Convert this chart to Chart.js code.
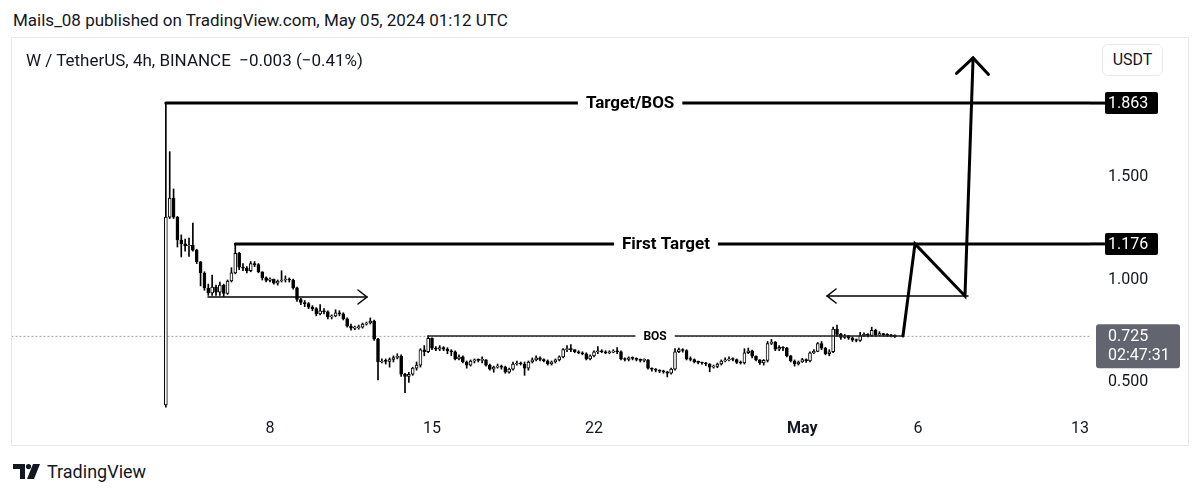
<!DOCTYPE html>
<html>
<head>
<meta charset="utf-8">
<title>W / TetherUS 4h</title>
<script src="https://cdn.jsdelivr.net/npm/chart.js@4.4.1/dist/chart.umd.min.js"></script>
<style>
  html, body { margin: 0; padding: 0; background: #fff; }
  body { width: 1200px; height: 495px; position: relative; overflow: hidden;
         font-family: Roboto, "Noto Sans", sans-serif; color: #131722; }
  #header { position: absolute; left: 13px; top: 10px; font-size: 17px; line-height: 20px; white-space: nowrap; }
  #frame { position: absolute; left: 11px; top: 37px; width: 1176px; height: 407px; border: 1px solid #e6e8ee; }
  #chart { position: absolute; left: 0; top: 0; }
  #title { position: absolute; left: 14px; top: 13px; font-size: 17px; line-height: 18px; white-space: nowrap; }
  #unit { position: absolute; left: 1090px; top: 6px; width: 61px; height: 32px; box-sizing: border-box;
          border: 1px solid #e6e8ee; border-radius: 6px; font-size: 16px; line-height: 30px; text-align: center; background: #fff; }
  #footer { position: absolute; left: 13px; top: 461px; height: 20px; display: flex; align-items: center; }
  #footer span { font-size: 18px; margin-left: 6px; }
</style>
</head>
<body>
<div id="header">Mails_08 published on TradingView.com, May 05, 2024 01:12 UTC</div>
<div id="frame">
  <canvas id="chart" width="1176" height="407"></canvas>
  <div id="title">W / TetherUS, 4h, BINANCE&nbsp;&nbsp;−0.003 (−0.41%)</div>
  <div id="unit">USDT</div>
</div>
<div id="footer">
  <svg width="28" height="15" viewBox="0 0 28 15">
    <path d="M0 0h12v15h-5v-10h-7z" fill="#131722"/>
    <circle cx="15.5" cy="2.6" r="2.6" fill="#131722"/>
    <path d="M20 0h7l-6 15h-7z" fill="#131722"/>
  </svg>
  <span>TradingView</span>
</div>

<script>
// 4h candles of W/USDT, first one Apr 3 12:00 UTC; x axis is the day number (Apr 8 = 8, May 1 = 31)
var firstBarDay = 3.5;
var barsPerDay = 6;

var opens = [
  0.390,1.307,1.400,1.307,1.195,1.176,1.166,1.170,1.146,1.088,
  1.034,0.961,0.937,0.966,0.940,0.975,0.935,0.995,1.035,1.130,
  1.063,1.058,1.045,1.080,1.075,1.040,1.010,0.998,1.005,0.985,
  0.995,1.000,1.005,1.000,0.962,0.905,0.890,0.885,0.868,0.860,
  0.835,0.850,0.845,0.820,0.825,0.840,0.835,0.810,0.775,0.765,
  0.768,0.770,0.785,0.790,0.800,0.712,0.600,0.605,0.603,0.612,
  0.622,0.628,0.540,0.530,0.540,0.570,0.585,0.659,0.650,0.715,
  0.668,0.662,0.670,0.662,0.655,0.650,0.615,0.625,0.600,0.585,
  0.605,0.610,0.608,0.610,0.585,0.565,0.575,0.580,0.575,0.550,
  0.565,0.590,0.595,0.590,0.570,0.600,0.610,0.620,0.612,0.605,
  0.592,0.600,0.610,0.625,0.660,0.665,0.660,0.650,0.645,0.640,
  0.615,0.630,0.650,0.655,0.650,0.645,0.648,0.652,0.650,0.615,
  0.612,0.620,0.618,0.612,0.608,0.610,0.570,0.565,0.560,0.555,
  0.552,0.545,0.565,0.650,0.660,0.656,0.615,0.612,0.600,0.598,
  0.595,0.590,0.575,0.578,0.590,0.605,0.610,0.615,0.612,0.598,
  0.595,0.645,0.655,0.628,0.610,0.595,0.608,0.690,0.697,0.662,
  0.672,0.668,0.630,0.605,0.590,0.600,0.612,0.605,0.645,0.652,
  0.690,0.668,0.640,0.650,0.760,0.735,0.720,0.728,0.718,0.708,
  0.705,0.728,0.735,0.730,0.755,0.732,0.738,0.732,0.730,0.728
];
var highs = [
  1.863,1.626,1.444,1.310,1.220,1.200,1.205,1.278,1.150,1.090,
  1.040,0.980,1.024,0.975,0.990,0.980,1.000,1.060,1.176,1.135,
  1.080,1.065,1.090,1.090,1.080,1.040,1.015,1.010,1.005,1.000,
  1.045,1.020,1.010,1.005,0.965,0.910,0.900,0.890,0.875,0.865,
  0.880,0.860,0.850,0.830,0.855,0.850,0.840,0.815,0.785,0.775,
  0.780,0.790,0.795,0.815,0.805,0.715,0.615,0.615,0.620,0.630,
  0.640,0.635,0.545,0.550,0.575,0.600,0.665,0.680,0.727,0.718,
  0.675,0.680,0.675,0.670,0.660,0.655,0.635,0.630,0.605,0.610,
  0.615,0.615,0.625,0.612,0.590,0.580,0.590,0.585,0.580,0.570,
  0.600,0.605,0.600,0.600,0.605,0.620,0.630,0.625,0.615,0.610,
  0.605,0.615,0.630,0.665,0.680,0.685,0.660,0.655,0.650,0.645,
  0.635,0.655,0.675,0.660,0.655,0.655,0.660,0.670,0.655,0.620,
  0.625,0.625,0.620,0.615,0.615,0.612,0.572,0.568,0.562,0.560,
  0.555,0.570,0.665,0.668,0.665,0.660,0.625,0.615,0.605,0.600,
  0.598,0.592,0.585,0.595,0.610,0.620,0.625,0.620,0.615,0.605,
  0.665,0.668,0.658,0.630,0.612,0.612,0.700,0.710,0.700,0.680,
  0.675,0.672,0.632,0.610,0.605,0.618,0.615,0.650,0.660,0.695,
  0.700,0.672,0.660,0.770,0.780,0.740,0.735,0.730,0.722,0.712,
  0.745,0.742,0.738,0.770,0.760,0.748,0.740,0.738,0.735,0.732
];
var lows = [
  0.380,1.300,1.300,1.161,1.112,1.140,1.115,1.140,1.080,0.971,
  0.950,0.925,0.925,0.925,0.925,0.920,0.930,0.990,1.030,1.050,
  1.045,1.035,1.040,1.065,1.035,1.000,0.990,0.990,0.980,0.975,
  0.990,0.990,0.990,0.955,0.895,0.880,0.870,0.860,0.850,0.825,
  0.830,0.835,0.810,0.810,0.820,0.825,0.805,0.770,0.755,0.758,
  0.760,0.765,0.780,0.785,0.705,0.512,0.595,0.590,0.575,0.600,
  0.615,0.530,0.450,0.500,0.535,0.560,0.575,0.630,0.645,0.660,
  0.655,0.655,0.655,0.640,0.630,0.610,0.610,0.595,0.570,0.580,
  0.595,0.600,0.595,0.580,0.560,0.550,0.570,0.565,0.545,0.545,
  0.560,0.585,0.585,0.535,0.560,0.595,0.605,0.605,0.600,0.585,
  0.585,0.595,0.605,0.620,0.650,0.650,0.645,0.640,0.635,0.610,
  0.610,0.625,0.640,0.645,0.640,0.640,0.645,0.640,0.610,0.605,
  0.605,0.610,0.605,0.600,0.600,0.565,0.555,0.552,0.548,0.545,
  0.527,0.540,0.560,0.645,0.648,0.610,0.605,0.595,0.590,0.588,
  0.582,0.552,0.570,0.572,0.585,0.600,0.605,0.605,0.592,0.590,
  0.590,0.640,0.620,0.605,0.588,0.585,0.600,0.685,0.655,0.655,
  0.655,0.625,0.600,0.580,0.585,0.598,0.598,0.600,0.640,0.650,
  0.660,0.635,0.630,0.645,0.725,0.710,0.715,0.710,0.700,0.698,
  0.700,0.725,0.722,0.725,0.725,0.728,0.726,0.725,0.722,0.720
];
var closes = [
  1.307,1.400,1.307,1.195,1.176,1.166,1.170,1.146,1.088,1.034,
  0.961,0.937,0.966,0.940,0.975,0.935,0.995,1.035,1.130,1.063,
  1.058,1.045,1.080,1.075,1.040,1.010,0.998,1.005,0.985,0.995,
  1.000,1.005,1.000,0.962,0.905,0.890,0.885,0.868,0.860,0.835,
  0.850,0.845,0.820,0.825,0.840,0.835,0.810,0.775,0.765,0.768,
  0.770,0.785,0.790,0.800,0.712,0.600,0.605,0.603,0.612,0.622,
  0.628,0.540,0.530,0.540,0.570,0.585,0.659,0.650,0.715,0.668,
  0.662,0.670,0.662,0.655,0.650,0.615,0.625,0.600,0.585,0.605,
  0.610,0.608,0.610,0.585,0.565,0.575,0.580,0.575,0.550,0.565,
  0.590,0.595,0.590,0.570,0.600,0.610,0.620,0.612,0.605,0.592,
  0.600,0.610,0.625,0.660,0.665,0.660,0.650,0.645,0.640,0.615,
  0.630,0.650,0.655,0.650,0.645,0.648,0.652,0.650,0.615,0.612,
  0.620,0.618,0.612,0.608,0.610,0.570,0.565,0.560,0.555,0.552,
  0.545,0.565,0.650,0.660,0.656,0.615,0.612,0.600,0.598,0.595,
  0.590,0.575,0.578,0.590,0.605,0.610,0.615,0.612,0.598,0.595,
  0.645,0.655,0.628,0.610,0.595,0.608,0.690,0.697,0.662,0.672,
  0.668,0.630,0.605,0.590,0.600,0.612,0.605,0.645,0.652,0.690,
  0.668,0.640,0.650,0.760,0.735,0.720,0.728,0.718,0.708,0.705,
  0.728,0.735,0.730,0.755,0.732,0.738,0.732,0.730,0.728,0.725
];

// axes
var dayTicks = [8, 15, 22, 31, 36, 43];
var dayTickLabels = ['8', '15', '22', 'May', '6', '13'];
var priceTicks = [0.5, 1.0, 1.5];
var xMin = -3.148, xMax = 43.432;
var yMin = 0.3658, yMax = 2.1707;

var lastPrice = 0.725;
var countdown = '02:47:31';

// drawn lines, as [day, price]
var targetBosLine = [[3.5, 1.863], [xMax, 1.863]];
var firstTargetLine = [[6.5, 1.176], [xMax, 1.176]];
var bosLine = [[14.83, 0.727], [35.35, 0.727]];
var arrowRightLine = [[5.32, 0.917], [12.19, 0.917]];
var arrowLeftLine = [[38.16, 0.922], [32.07, 0.922]];
var projectionPath = [[35.35, 0.727], [35.87, 1.176], [38.03, 0.922], [38.38, 2.083]];
var lastPriceLine = [[xMin, lastPrice], [xMax, lastPrice]];

var lineLabels = [
    { text: 'Target/BOS', day: 23.56, price: 1.863, size: 17 },
    { text: 'First Target', day: 25.11, price: 1.176, size: 17 },
    { text: 'BOS', day: 24.64, price: 0.727, size: 12 }
];
var priceTags = [1.863, 1.176];

function toPoints(list) {
    return list.map(function (p) { return { x: p[0], y: p[1] }; });
}

function barDay(i) {
    return firstBarDay + i / barsPerDay;
}

function lineSet(list, width, color, dash, order) {
    return {
        type: 'line',
        data: toPoints(list),
        borderColor: color,
        borderWidth: width,
        borderDash: dash || [],
        pointRadius: 0,
        tension: 0,
        borderCapStyle: 'round',
        fill: false,
        order: order
    };
}

function arrowHead(ctx, from, to, len, half, width) {
    var dx = to.x - from.x, dy = to.y - from.y;
    var d = Math.sqrt(dx * dx + dy * dy);
    var ux = dx / d, uy = dy / d;
    ctx.beginPath();
    ctx.moveTo(to.x - ux * len - uy * half, to.y - uy * len + ux * half);
    ctx.lineTo(to.x, to.y);
    ctx.lineTo(to.x - ux * len + uy * half, to.y - uy * len - ux * half);
    ctx.lineWidth = width;
    ctx.strokeStyle = '#000';
    ctx.lineJoin = 'miter';
    ctx.lineCap = 'round';
    ctx.stroke();
}

var drawingsPlugin = {
    id: 'drawings',
    afterDatasetsDraw: function (chart) {
        var ctx = chart.ctx, x = chart.scales.x, y = chart.scales.y;
        function px(p) { return { x: x.getPixelForValue(p[0]), y: y.getPixelForValue(p[1]) }; }
        ctx.save();
        arrowHead(ctx, px(arrowRightLine[0]), px(arrowRightLine[1]), 9, 7, 1.5);
        arrowHead(ctx, px(arrowLeftLine[0]), px(arrowLeftLine[1]), 9, 7, 1.5);
        var n = projectionPath.length;
        arrowHead(ctx, px(projectionPath[n - 2]), px(projectionPath[n - 1]), 16, 16, 3);

        lineLabels.forEach(function (l) {
            ctx.font = 'bold ' + l.size + 'px Roboto';
            var w = ctx.measureText(l.text).width;
            var cx = x.getPixelForValue(l.day), cy = y.getPixelForValue(l.price);
            ctx.fillStyle = '#fff';
            ctx.fillRect(cx - w / 2 - 8, cy - 4, w + 16, 8);
            ctx.fillStyle = '#000';
            ctx.textAlign = 'center';
            ctx.textBaseline = 'middle';
            ctx.fillText(l.text, cx, cy + 1);
        });
        ctx.restore();
    },
    afterDraw: function (chart) {
        var ctx = chart.ctx, y = chart.scales.y, area = chart.chartArea;
        ctx.save();
        ctx.textAlign = 'left';
        ctx.textBaseline = 'middle';
        ctx.font = '16px Roboto';
        priceTags.forEach(function (p) {
            var py = y.getPixelForValue(p);
            ctx.beginPath();
            ctx.moveTo(area.right, py);
            ctx.lineTo(area.right + 15, py);
            ctx.lineWidth = 3;
            ctx.strokeStyle = '#000';
            ctx.stroke();
            ctx.fillStyle = '#000';
            ctx.beginPath();
            ctx.roundRect(area.right + 15, py - 11, 53, 22, 2);
            ctx.fill();
            ctx.fillStyle = '#fff';
            ctx.fillText(p.toFixed(3), area.right + 18, py + 1);
        });
        var ly = y.getPixelForValue(lastPrice);
        ctx.fillStyle = '#62656f';
        ctx.beginPath();
        ctx.roundRect(area.right + 6, ly - 12, 84, 44, 3);
        ctx.fill();
        ctx.fillStyle = '#fff';
        ctx.fillText(lastPrice.toFixed(3), area.right + 18, ly + 1);
        ctx.fillText(countdown, area.right + 18, ly + 20);
        ctx.restore();
    }
};

Chart.defaults.font.family = 'Roboto';
Chart.defaults.font.size = 16;
Chart.defaults.color = '#131722';

var ctx = document.getElementById('chart').getContext('2d');

new Chart(ctx, {
    type: 'bar',
    data: {
        datasets: [
            lineSet(lastPriceLine, 1, '#9a9ca5', [1, 3], 10),
            {
                type: 'bar',
                data: lows.map(function (l, i) { return { x: barDay(i), y: [l, highs[i]] }; }),
                backgroundColor: '#000',
                barThickness: 1,
                grouped: false,
                order: 9
            },
            {
                type: 'bar',
                data: opens.map(function (o, i) { return { x: barDay(i), y: [o, closes[i]] }; }),
                backgroundColor: function (c) {
                    return closes[c.dataIndex] >= opens[c.dataIndex] ? '#fff' : '#000';
                },
                borderColor: '#000',
                borderWidth: 1,
                borderSkipped: false,
                barThickness: 3,
                minBarLength: 1,
                grouped: false,
                order: 8
            },
            lineSet(bosLine, 1.5, '#222', null, 3),
            lineSet(arrowRightLine, 1.5, '#000', null, 2),
            lineSet(arrowLeftLine, 1.5, '#000', null, 2),
            lineSet(targetBosLine, 3, '#000', null, 1),
            lineSet(firstTargetLine, 3, '#000', null, 1),
            lineSet(projectionPath, 3, '#000', null, 1)
        ]
    },
    options: {
        responsive: false,
        animation: false,
        events: [],
        layout: { padding: { top: 2, left: 0, right: 0, bottom: 0 } },
        plugins: { legend: { display: false }, tooltip: { enabled: false } },
        scales: {
            x: {
                type: 'linear',
                min: xMin,
                max: xMax,
                offset: false,
                grid: { display: false, drawTicks: false, offset: false },
                border: { display: false },
                afterBuildTicks: function (scale) {
                    scale.ticks = dayTicks.map(function (v) { return { value: v }; });
                },
                afterFit: function (scale) {
                    scale.height = 35;
                    scale.paddingLeft = 0;
                    scale.paddingRight = 0;
                },
                ticks: {
                    autoSkip: false,
                    maxRotation: 0,
                    padding: 9,
                    font: function (c) {
                        return { size: 16, weight: (c.tick && c.tick.value === 31) ? 'bold' : 'normal' };
                    },
                    callback: function (value) {
                        var k = dayTicks.indexOf(value);
                        return k >= 0 ? dayTickLabels[k] : '';
                    }
                }
            },
            y: {
                type: 'linear',
                position: 'right',
                min: yMin,
                max: yMax,
                grid: { display: false, drawTicks: false },
                border: { display: false },
                afterBuildTicks: function (scale) {
                    scale.ticks = priceTicks.map(function (v) { return { value: v }; });
                },
                afterFit: function (scale) {
                    scale.width = 98;
                    scale.paddingTop = 0;
                    scale.paddingBottom = 0;
                },
                ticks: {
                    padding: 18,
                    callback: function (value) { return value.toFixed(3); }
                }
            }
        }
    },
    plugins: [drawingsPlugin]
});
</script>
</body>
</html>
